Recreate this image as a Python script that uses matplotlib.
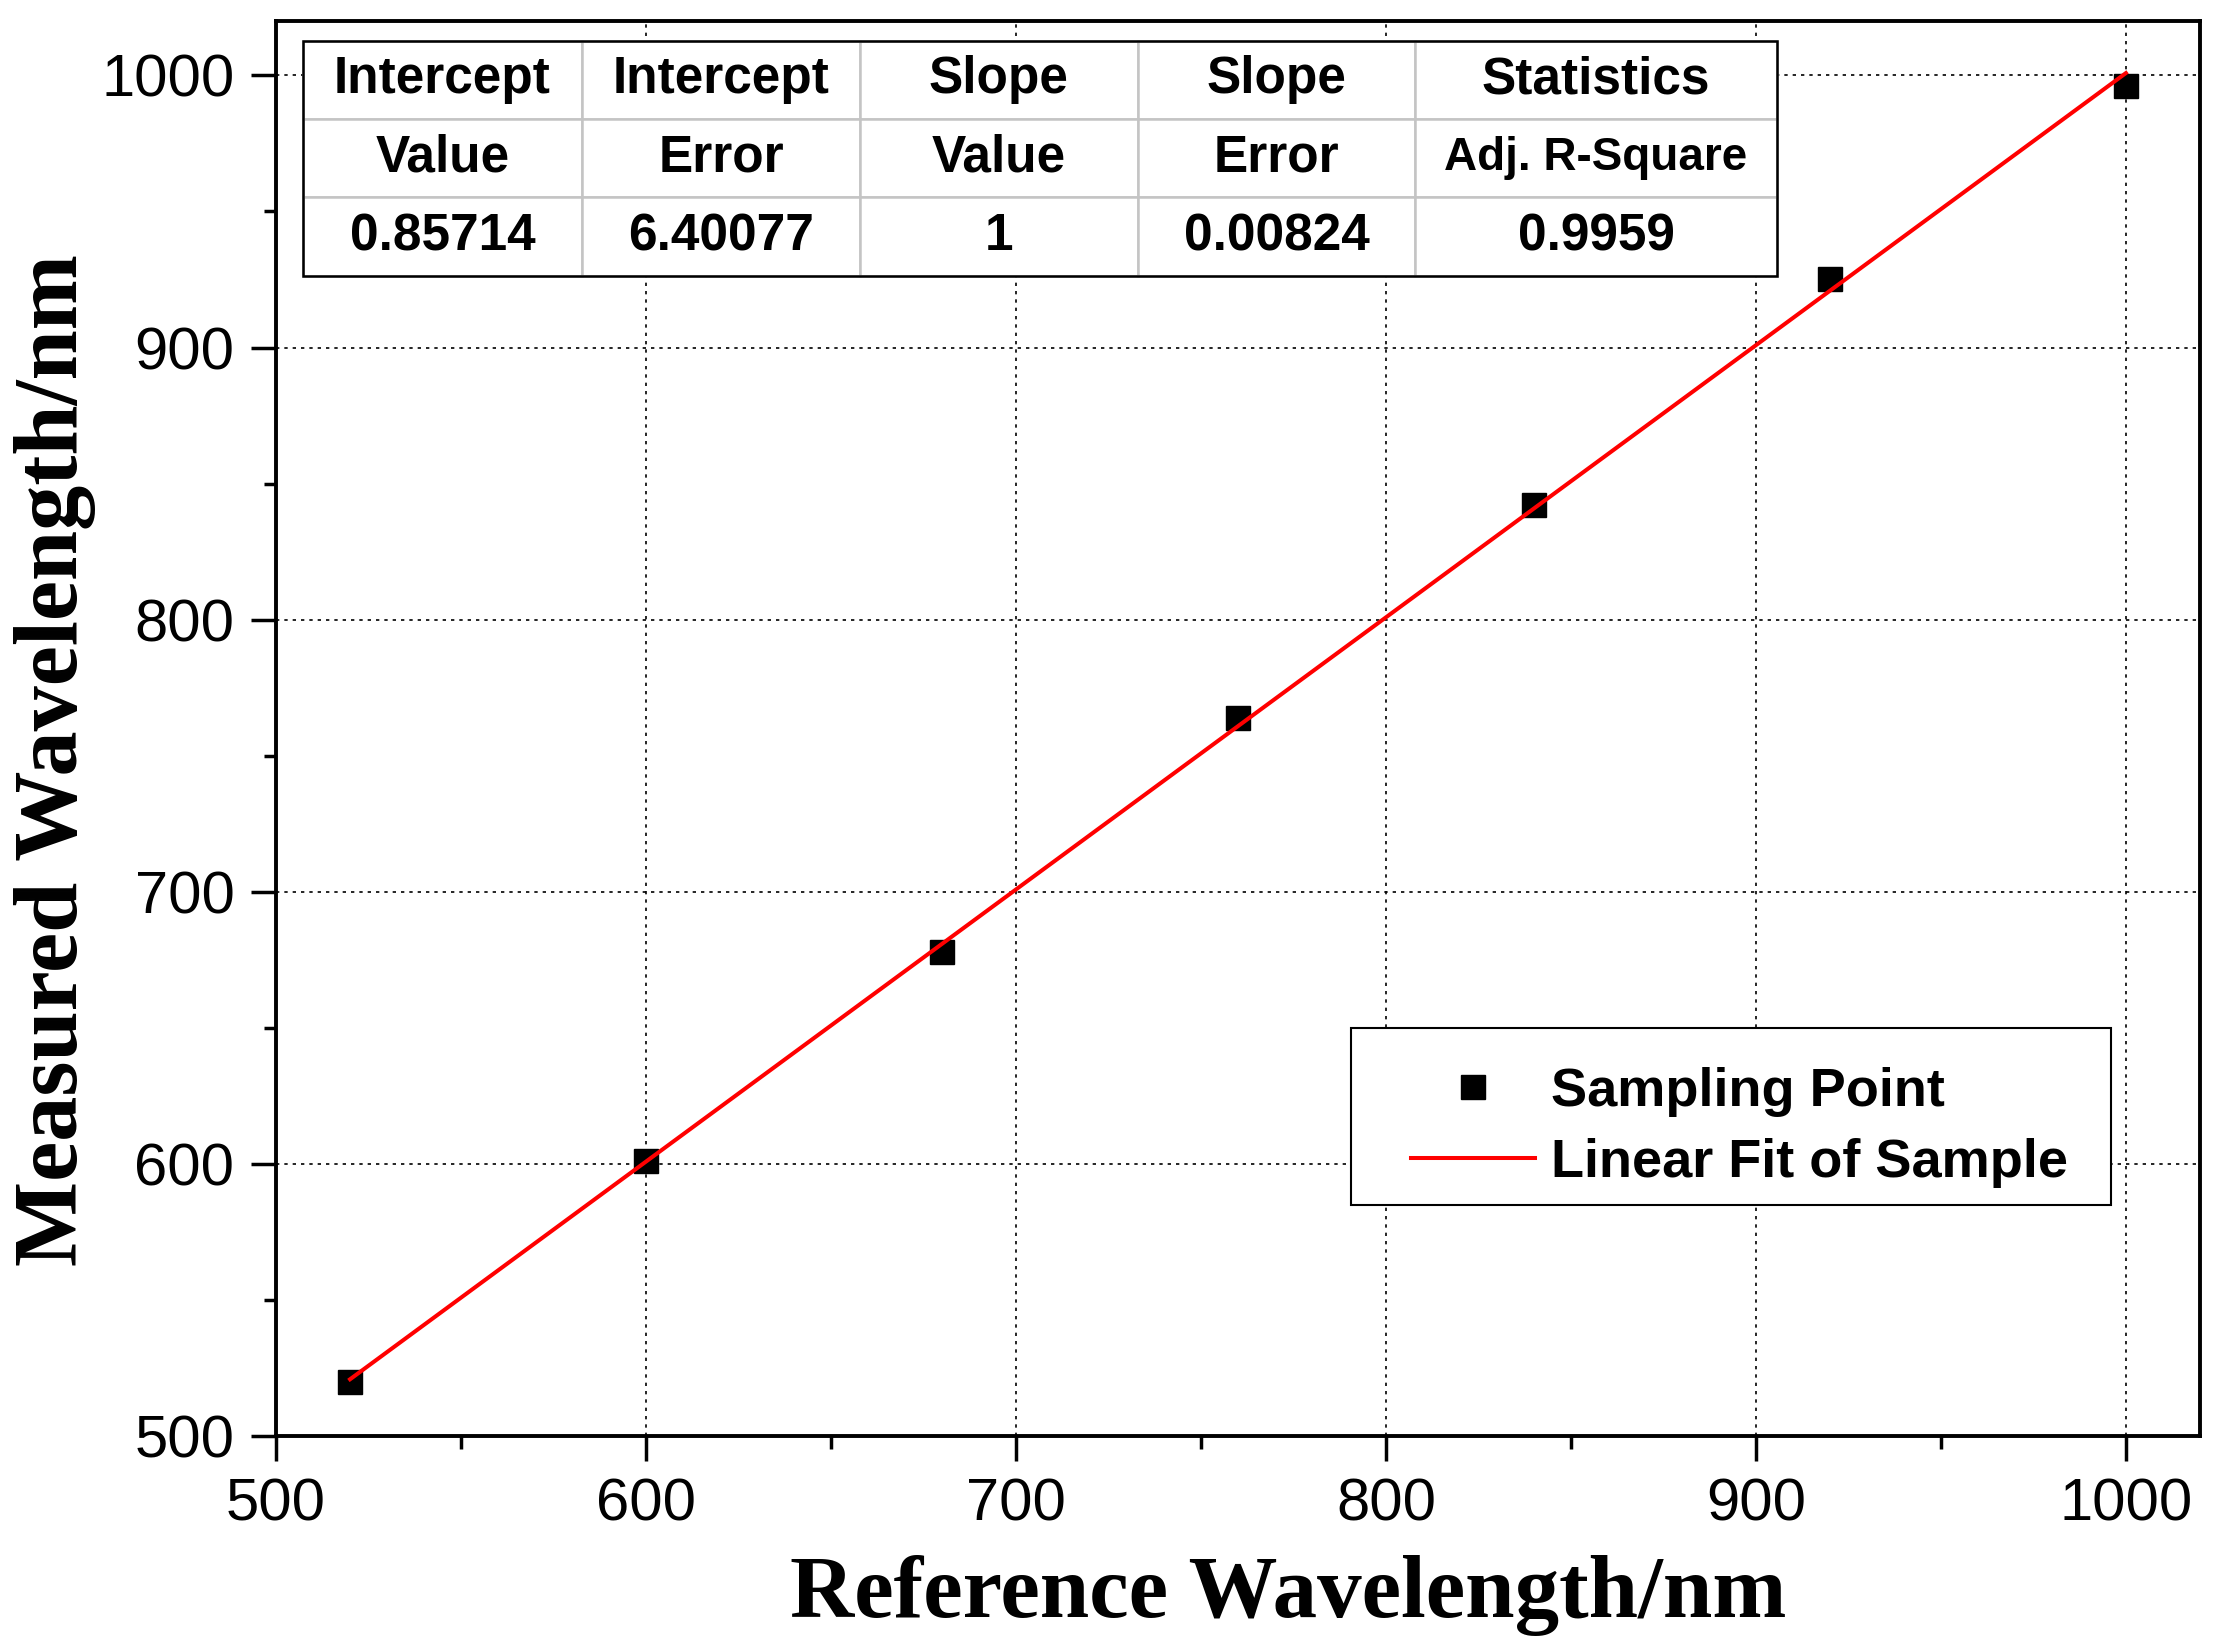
import matplotlib
matplotlib.use("Agg")
import matplotlib.pyplot as plt
from matplotlib.patches import Rectangle
from matplotlib.ticker import MultipleLocator

# sampling points
ref_wl = [520, 600, 680, 760, 840, 920, 1000]
meas_wl = [520, 601, 678, 764, 842, 925, 996]

# linear fit results
intercept = 0.85714
slope = 1.0
fit_x = [520, 1000]
fit_y = [intercept + slope * x for x in fit_x]

# fit table
table_rows = [
    ["Intercept", "Intercept", "Slope", "Slope", "Statistics"],
    ["Value", "Error", "Value", "Error", "Adj. R-Square"],
    ["0.85714", "6.40077", "1", "0.00824", "0.9959"],
]
col_w = [197, 196, 196, 196, 255]

sans = "Liberation Sans"
serif = "Liberation Serif"

fig = plt.figure(figsize=(22.19, 16.51), dpi=100)
ax = fig.add_axes([0.1244, 0.1302, 0.867, 0.8571])

ax.plot(ref_wl, meas_wl, "s", color="black", markersize=17, label="Sampling Point", zorder=3)
ax.plot(fit_x, fit_y, color="red", lw=2.9, label="Linear Fit of Sample", zorder=4)

ax.set_xlim(500, 1020)
ax.set_ylim(500, 1020)
ax.xaxis.set_major_locator(MultipleLocator(100))
ax.xaxis.set_minor_locator(MultipleLocator(50))
ax.yaxis.set_major_locator(MultipleLocator(100))
ax.yaxis.set_minor_locator(MultipleLocator(50))
ax.grid(True, which="major", color="black", lw=1.2, linestyle=(0, (2, 3)), zorder=1)
ax.set_axisbelow(True)

ax.tick_params(which="major", direction="out", length=18, width=2.5, pad=12,
               labelsize=43, top=False, right=False)
ax.tick_params(which="minor", direction="out", length=9, width=2.5, top=False, right=False)
for lab in ax.get_xticklabels() + ax.get_yticklabels():
    lab.set_fontfamily(sans)
for sp in ax.spines.values():
    sp.set_linewidth(2.8)

ax.set_xlabel("Reference Wavelength/nm", fontsize=64, fontweight="bold", family=serif, labelpad=16)
ax.set_ylabel("Measured Wavelength/nm", fontsize=65, fontweight="bold", family=serif, labelpad=4)
ax.xaxis.label.set_x(0.526)
ax.yaxis.label.set_y(0.478)

tot = sum(col_w)
tb = ax.table(cellText=table_rows, cellLoc="center",
              colWidths=[w / tot for w in col_w],
              bbox=[0.014, 0.820, 0.766, 0.166], zorder=5)
tb.auto_set_font_size(False)
for (r, c), cell in tb.get_celld().items():
    cell.set_edgecolor("#c4c4c4")
    cell.set_linewidth(1.8)
    cell.set_facecolor("white")
    cell.get_text().set_fontsize(37)
    cell.get_text().set_fontweight("bold")
    cell.get_text().set_fontfamily(sans)
tb[1, 4].get_text().set_fontsize(33)
ax.add_patch(Rectangle((0.014, 0.820), 0.766, 0.166, transform=ax.transAxes,
                       fill=False, edgecolor="black", lw=1.8, zorder=6))

# legend box drawn separately so its padding matches the original
ax.add_patch(Rectangle((0.559, 0.163), 0.395, 0.125, transform=ax.transAxes,
                       facecolor="white", edgecolor="black", lw=1.5, zorder=6))
leg = ax.legend(loc="upper left", bbox_to_anchor=(0.5897, 0.261), frameon=False,
                numpoints=1, handlelength=2.3, handletextpad=0.3, borderpad=0,
                borderaxespad=0, labelspacing=0.4,
                prop={"family": sans, "weight": "bold", "size": 39})
leg.set_zorder(7)

fig.savefig("out.png", dpi=100)
